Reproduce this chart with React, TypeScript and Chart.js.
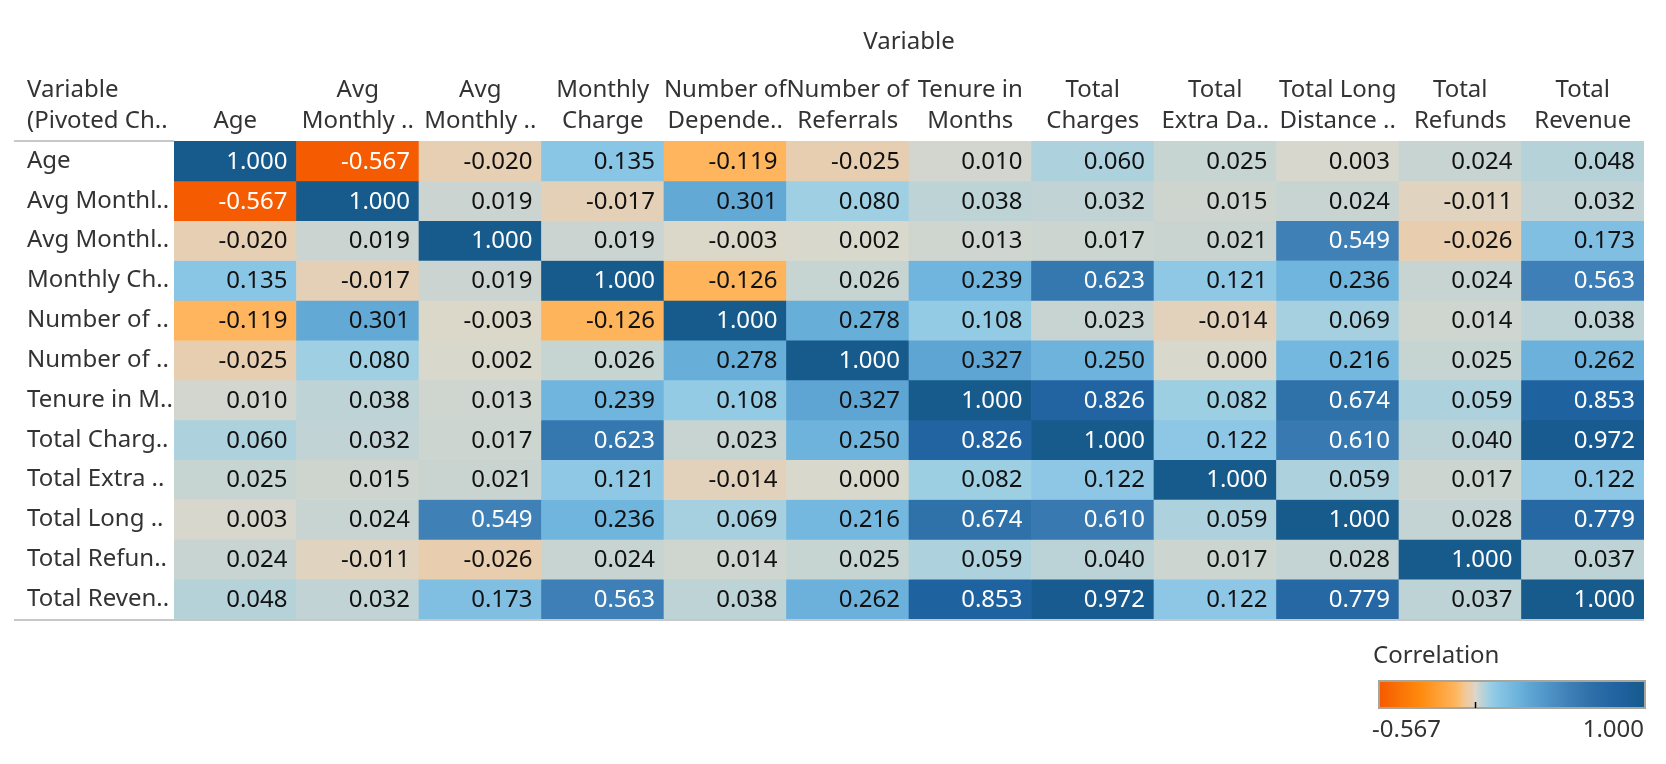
import React, { useEffect, useRef } from "react";
import { Chart, registerables } from "chart.js";
Chart.register(...registerables);

const FONT = "'Noto Sans', 'Open Sans', sans-serif";

const axisTitle = "Variable";
const rowHeaderTitle = ["Variable", "(Pivoted Ch.."];
const legendTitle = "Correlation";

const columnHeaders: string[][] = [
  ["Age"],
  ["Avg", "Monthly .."],
  ["Avg", "Monthly .."],
  ["Monthly", "Charge"],
  ["Number of", "Depende.."],
  ["Number of", "Referrals"],
  ["Tenure in", "Months"],
  ["Total", "Charges"],
  ["Total", "Extra Da.."],
  ["Total Long", "Distance .."],
  ["Total", "Refunds"],
  ["Total", "Revenue"],
];

const rowLabels: string[] = [
  "Age",
  "Avg Monthl..",
  "Avg Monthl..",
  "Monthly Ch..",
  "Number of ..",
  "Number of ..",
  "Tenure in M..",
  "Total Charg..",
  "Total Extra ..",
  "Total Long ..",
  "Total Refun..",
  "Total Reven..",
];

const ageRow = [1.0, -0.567, -0.02, 0.135, -0.119, -0.025, 0.01, 0.06, 0.025, 0.003, 0.024, 0.048];
const avgMonthlyGbRow = [-0.567, 1.0, 0.019, -0.017, 0.301, 0.08, 0.038, 0.032, 0.015, 0.024, -0.011, 0.032];
const avgMonthlyLdRow = [-0.02, 0.019, 1.0, 0.019, -0.003, 0.002, 0.013, 0.017, 0.021, 0.549, -0.026, 0.173];
const monthlyChargeRow = [0.135, -0.017, 0.019, 1.0, -0.126, 0.026, 0.239, 0.623, 0.121, 0.236, 0.024, 0.563];
const dependentsRow = [-0.119, 0.301, -0.003, -0.126, 1.0, 0.278, 0.108, 0.023, -0.014, 0.069, 0.014, 0.038];
const referralsRow = [-0.025, 0.08, 0.002, 0.026, 0.278, 1.0, 0.327, 0.25, 0.0, 0.216, 0.025, 0.262];
const tenureRow = [0.01, 0.038, 0.013, 0.239, 0.108, 0.327, 1.0, 0.826, 0.082, 0.674, 0.059, 0.853];
const totalChargesRow = [0.06, 0.032, 0.017, 0.623, 0.023, 0.25, 0.826, 1.0, 0.122, 0.61, 0.04, 0.972];
const totalExtraRow = [0.025, 0.015, 0.021, 0.121, -0.014, 0.0, 0.082, 0.122, 1.0, 0.059, 0.017, 0.122];
const totalLongRow = [0.003, 0.024, 0.549, 0.236, 0.069, 0.216, 0.674, 0.61, 0.059, 1.0, 0.028, 0.779];
const totalRefundsRow = [0.024, -0.011, -0.026, 0.024, 0.014, 0.025, 0.059, 0.04, 0.017, 0.028, 1.0, 0.037];
const totalRevenueRow = [0.048, 0.032, 0.173, 0.563, 0.038, 0.262, 0.853, 0.972, 0.122, 0.779, 0.037, 1.0];

const matrix: number[][] = [
  ageRow,
  avgMonthlyGbRow,
  avgMonthlyLdRow,
  monthlyChargeRow,
  dependentsRow,
  referralsRow,
  tenureRow,
  totalChargesRow,
  totalExtraRow,
  totalLongRow,
  totalRefundsRow,
  totalRevenueRow,
];

const colorStops: [number, string][] = [
  [-0.567, "#f55b00"],
  [-0.33, "#ff8a0c"],
  [-0.12, "#feb55c"],
  [-0.06, "#f2c99a"],
  [-0.02, "#e6cfb3"],
  [0.0, "#d9d8cd"],
  [0.02, "#cad4d0"],
  [0.05, "#b4d2da"],
  [0.08, "#9ecfe3"],
  [0.13, "#8ac6e5"],
  [0.25, "#6db3dc"],
  [0.33, "#5da4d3"],
  [0.55, "#3f81b7"],
  [0.68, "#2e70a8"],
  [0.85, "#1f62a0"],
  [1.0, "#175a8c"],
];

function hexToRgb(h: string): number[] {
  const n = parseInt(h.slice(1), 16);
  return [(n >> 16) & 255, (n >> 8) & 255, n & 255];
}

function colorFor(v: number): string {
  if (v <= colorStops[0][0]) return colorStops[0][1];
  for (let i = 1; i < colorStops.length; i++) {
    const [v1, c1] = colorStops[i];
    const [v0, c0] = colorStops[i - 1];
    if (v <= v1) {
      const t = (v - v0) / (v1 - v0);
      const a = hexToRgb(c0);
      const b = hexToRgb(c1);
      const m = a.map((x, k) => Math.round(x + (b[k] - x) * t));
      return `rgb(${m[0]},${m[1]},${m[2]})`;
    }
  }
  return colorStops[colorStops.length - 1][1];
}

const allValues = matrix.flat();
const minVal = Math.min(...allValues);
const maxVal = Math.max(...allValues);

const overlayPlugin = {
  id: "overlay",
  afterDatasetsDraw(chart: any) {
    const ctx: CanvasRenderingContext2D = chart.ctx;
    ctx.save();
    ctx.font = `24px ${FONT}`;
    ctx.textAlign = "right";
    ctx.textBaseline = "middle";
    chart.data.datasets.forEach((ds: any, i: number) => {
      const meta = chart.getDatasetMeta(i);
      meta.data.forEach((el: any, j: number) => {
        const v = matrix[i][j];
        const { x, y, base, width } = el.getProps(["x", "y", "base", "width"], true);
        ctx.fillStyle = Math.abs(v) >= 0.5 ? "#ffffff" : "#111111";
        ctx.fillText(v.toFixed(3), x + width / 2 - 9, (y + base) / 2 + 1);
      });
    });
    ctx.restore();
  },
  afterDraw(chart: any) {
    const ctx: CanvasRenderingContext2D = chart.ctx;
    const area = chart.chartArea;
    ctx.save();
    // row header title
    ctx.font = `24px ${FONT}`;
    ctx.fillStyle = "#333333";
    ctx.textAlign = "left";
    ctx.textBaseline = "middle";
    ctx.fillText(rowHeaderTitle[0], 27, area.top - 51);
    ctx.fillText(rowHeaderTitle[1], 27, area.top - 20);
    // lines
    ctx.strokeStyle = "#c8c8c8";
    ctx.lineWidth = 2;
    ctx.beginPath();
    ctx.moveTo(14, area.top);
    ctx.lineTo(area.left, area.top);
    ctx.moveTo(14, area.bottom + 1);
    ctx.lineTo(area.right, area.bottom + 1);
    ctx.stroke();

    // legend
    const lx0 = 1380;
    const lx1 = area.right;
    const ly0 = 682;
    const ly1 = 707;
    ctx.fillStyle = "#333333";
    ctx.textAlign = "left";
    ctx.textBaseline = "middle";
    ctx.fillText(legendTitle, 1373, 656);
    const grad = ctx.createLinearGradient(lx0, 0, lx1, 0);
    colorStops.forEach(([v, c]) => {
      const t = (v - minVal) / (maxVal - minVal);
      grad.addColorStop(Math.max(0, Math.min(1, t)), c);
    });
    ctx.fillStyle = grad;
    ctx.fillRect(lx0, ly0, lx1 - lx0, ly1 - ly0);
    ctx.strokeStyle = "#a8a59c";
    ctx.lineWidth = 2;
    ctx.strokeRect(lx0 - 1, ly0 - 1, lx1 - lx0 + 2, ly1 - ly0 + 2);
    const zx = lx0 + ((0 - minVal) / (maxVal - minVal)) * (lx1 - lx0);
    ctx.strokeStyle = "#000000";
    ctx.lineWidth = 1.5;
    ctx.beginPath();
    ctx.moveTo(zx, ly1 - 5);
    ctx.lineTo(zx, ly1 + 1);
    ctx.stroke();
    ctx.fillStyle = "#333333";
    ctx.textAlign = "left";
    ctx.fillText(minVal.toFixed(3), lx0 - 8, 730);
    ctx.textAlign = "right";
    ctx.fillText(maxVal.toFixed(3), lx1, 730);
    ctx.restore();
  },
};

export default function App() {
  const ref = useRef<HTMLCanvasElement | null>(null);
  useEffect(() => {
    if (!ref.current) return;
    const chart = new Chart(ref.current, {
      type: "bar",
      data: {
        labels: columnHeaders as any,
        datasets: matrix.map((row, i) => ({
          label: rowLabels[i],
          data: row.map(() => [i, i + 1]) as any,
          backgroundColor: row.map((v) => colorFor(v)),
          borderWidth: 0,
          grouped: false,
          barPercentage: 1,
          categoryPercentage: 1,
        })),
      },
      options: {
        animation: false,
        responsive: true,
        maintainAspectRatio: false,
        layout: { padding: { left: 27, right: 22, top: 0, bottom: 145 } },
        plugins: {
          legend: { display: false },
          tooltip: { enabled: false },
        },
        scales: {
          x: {
            type: "category",
            position: "top",
            offset: true,
            grid: { display: false, drawTicks: false },
            border: { display: false },
            ticks: {
              font: { family: FONT, size: 24, lineHeight: 1.3 },
              color: "#333333",
              padding: 4,
              maxRotation: 0,
              autoSkip: false,
            },
            title: {
              display: true,
              text: axisTitle,
              font: { family: FONT, size: 24, lineHeight: 1.2 },
              color: "#333333",
              padding: { top: 28, bottom: 0 },
            },
            afterFit(axis: any) {
              axis.height = 141;
            },
          },
          y: {
            type: "linear",
            reverse: true,
            min: 0,
            max: matrix.length,
            grid: { display: false, drawTicks: false },
            border: { display: false },
            afterBuildTicks(axis: any) {
              axis.ticks = rowLabels.map((_, i) => ({ value: i + 0.5 }));
            },
            ticks: {
              font: { family: FONT, size: 24 },
              color: "#333333",
              crossAlign: "far",
              padding: 0,
              autoSkip: false,
              callback: (v: any) => rowLabels[Math.floor(Number(v))],
            },
            afterFit(axis: any) {
              axis.width = 147;
            },
          },
        },
      },
      plugins: [overlayPlugin],
    });
    return () => chart.destroy();
  }, []);
  return (
    <div style={{ position: "fixed", left: 0, top: 0, width: 1666, height: 764, background: "#fff" }}>
      <canvas ref={ref} />
    </div>
  );
}
